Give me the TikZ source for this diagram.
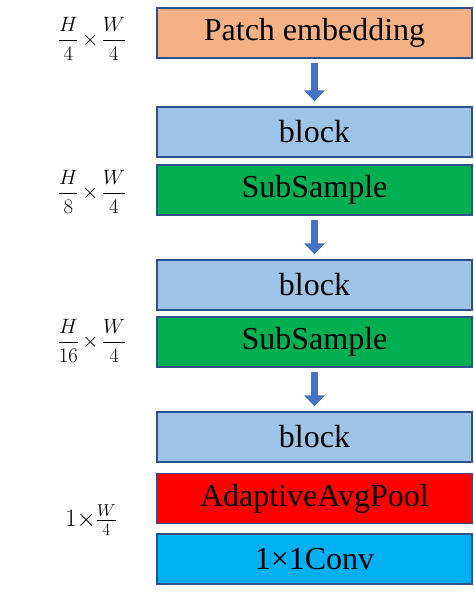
\documentclass[tikz,border=0pt]{standalone}
\usepackage{amsmath}
\usepackage{fontspec}
\setmainfont{Liberation Serif}
\usepackage{xcolor}
\definecolor{Peach}{RGB}{244,177,131}
\definecolor{LightBlue}{RGB}{157,195,230}
\definecolor{Green}{RGB}{0,176,80}
\definecolor{Red}{RGB}{255,0,0}
\definecolor{Azure}{RGB}{0,176,240}
\definecolor{Border}{RGB}{47,82,143}
\definecolor{ArrowBlue}{RGB}{68,114,196}
\usetikzlibrary{arrows.meta}

\begin{document}
\begin{tikzpicture}[x=1pt, y=-1pt,
		layer/.style={draw=Border, line width=1.3pt, minimum width=315pt, minimum height=50pt, inner sep=0pt, font=\fontsize{32}{36}\selectfont},
		size/.style={align=center, font=\fontsize{20}{24}\selectfont},
		flow/.style={-{Triangle[width=20pt, length=11pt]}, line width=7pt, draw=ArrowBlue, shorten <=4pt, shorten >=5pt}]
		
		\useasboundingbox (0,0) rectangle (474,598);
		
		% Rectangles
		\node[layer, fill=Peach] 		(patch) 	at (314.5, 33) 	{Patch embedding};
		\node[layer, fill=LightBlue] 	(blockA) 	at (314.5, 132) {block};
		\node[layer, fill=Green] 		(subA) 		at (314.5, 190) {SubSample};
		\node[layer, fill=LightBlue] 	(blockB) 	at (314.5, 285) {block};
		\node[layer, fill=Green] 		(subB) 		at (314.5, 342) {SubSample};
		\node[layer, fill=LightBlue] 	(blockC) 	at (314.5, 437) {block};
		\node[layer, fill=Red] 			(pool) 		at (314.5, 498.5) {AdaptiveAvgPool};
		\node[layer, fill=Azure] 		(conv) 		at (314.5, 559) {1×1Conv};
		
		% Sizes
		\node[size] 	(sizeA) 	at (92, 39) 	{$\dfrac{H}{4}\,{\times}\,\dfrac{W}{4}$};
		\node[size] 	(sizeB) 	at (92, 192) 	{$\dfrac{H}{8}\,{\times}\,\dfrac{W}{4}$};
		\node[size] 	(sizeC) 	at (92, 341) 	{$\dfrac{H}{16}\,{\times}\,\dfrac{W}{4}$};
		\node[size, font=\fontsize{25}{28}\selectfont] 	(sizeD) 	at (91, 520) 	{$1{\times}\frac{W}{4}$};
		
		% Arrows
		\draw[flow] (patch) -- (blockA);
		\draw[flow] (subA) -- (blockB);
		\draw[flow] (subB) -- (blockC);
		
	\end{tikzpicture}
\end{document}
